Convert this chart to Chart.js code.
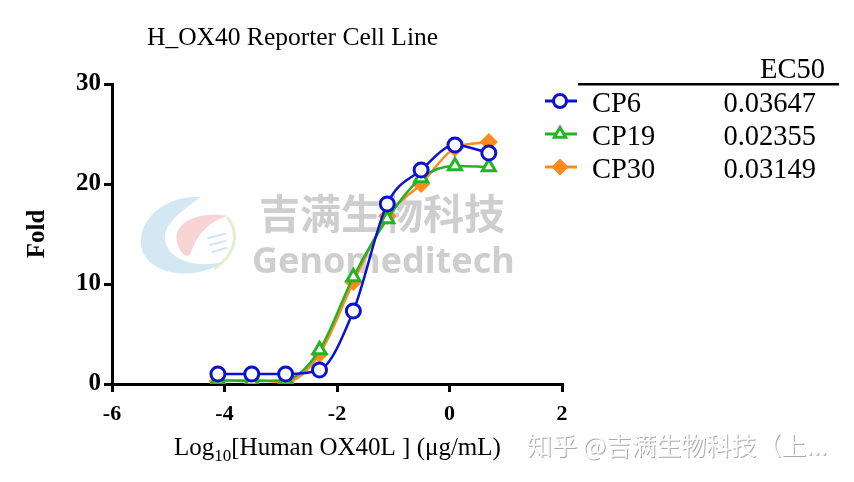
<!DOCTYPE html>
<html lang="en">
<head>
<meta charset="UTF-8">
<title>H_OX40 Reporter Cell Line</title>
<script src="https://cdn.jsdelivr.net/npm/chart.js@4.4.1/dist/chart.umd.min.js"></script>
<style>
    html, body { margin: 0; padding: 0; background: #fff; }
    #wrap { width: 854px; height: 482px; }
</style>
</head>
<body>
<div id="wrap"><canvas id="doseChart" width="854" height="482"></canvas></div>
<script>
    // log10 dose (ug/mL), 4-fold dilutions from 5 ug/mL
    const logDose = [-4.117, -3.515, -2.913, -2.311, -1.709, -1.107, -0.505, 0.097, 0.699];
    const names = ['CP6', 'CP19', 'CP30'];
    const ec50 = ['0.03647', '0.02355', '0.03149'];
    const cp6 = [1.0, 1.0, 1.0, 1.4, 7.3, 18.0, 21.4, 23.9, 23.1];
    const cp19 = [0.4, 0.3, 0.4, 3.4, 10.7, 16.5, 20.6, 21.8, 21.7];
    const cp30 = [0.3, 0.4, 0.2, 3.0, 10.2, 16.8, 20.0, 23.6, 24.2];
    const xTicks = [-6, -4, -2, 0, 2];
    const yTicks = [0, 10, 20, 30];

    const colors = ['#0a12d0', '#22b422', '#ff8a1e'];
    const serif = '"Liberation Serif", "Times New Roman", serif';

    function pts(vals) {
        return logDose.map((x, i) => ({x: x, y: vals[i]}));
    }

    // watermark behind the curves
    const watermark = {
        id: 'watermark',
        beforeDatasetsDraw(chart) {
            const ctx = chart.ctx;
            ctx.save();
            // logo swirl
            ctx.lineCap = 'round';
            ctx.fillStyle = 'rgba(160,205,228,0.45)';
            ctx.beginPath();
            ctx.moveTo(200, 197);
            ctx.bezierCurveTo(160, 195, 135, 225, 142, 250);
            ctx.bezierCurveTo(150, 275, 195, 282, 222, 262);
            ctx.bezierCurveTo(200, 268, 168, 262, 165, 240);
            ctx.bezierCurveTo(163, 222, 185, 210, 200, 197);
            ctx.fill();
            ctx.fillStyle = 'rgba(240,160,160,0.45)';
            ctx.beginPath();
            ctx.moveTo(178, 245);
            ctx.bezierCurveTo(170, 225, 195, 210, 228, 216);
            ctx.bezierCurveTo(205, 222, 195, 240, 190, 255);
            ctx.bezierCurveTo(185, 258, 180, 252, 178, 245);
            ctx.fill();
            ctx.strokeStyle = 'rgba(200,225,170,0.55)';
            ctx.lineWidth = 3;
            ctx.beginPath();
            ctx.moveTo(228, 218);
            ctx.bezierCurveTo(240, 235, 235, 255, 215, 268);
            ctx.stroke();
            ctx.strokeStyle = 'rgba(170,205,225,0.5)';
            ctx.lineWidth = 2;
            [0, 7, 14].forEach(d => {
                ctx.beginPath();
                ctx.moveTo(208 + d * 0.3, 238 + d);
                ctx.lineTo(225 + d * 0.1, 234 + d);
                ctx.stroke();
            });
            // company name
            ctx.fillStyle = 'rgba(190,190,190,0.75)';
            ctx.textBaseline = 'middle';
            ctx.font = 'bold 41px "Noto Sans CJK SC"';
            ctx.fillText('吉满生物科技', 259, 213);
            ctx.font = 'bold 36px "Noto Sans", "DejaVu Sans", sans-serif';
            ctx.fillText('Genomeditech', 252, 263);
            ctx.restore();
        }
    };

    // title, x title with subscript, EC50 table, bottom watermark
    const annotations = {
        id: 'annotations',
        afterDraw(chart) {
            const ctx = chart.ctx;
            ctx.save();
            ctx.fillStyle = '#000';
            ctx.textBaseline = 'alphabetic';
            ctx.textAlign = 'left';
            ctx.font = '25.5px ' + serif;
            ctx.fillText('H_OX40 Reporter Cell Line', 147, 45);

            // x axis title
            let x = 174, y = 455;
            ctx.font = '25px ' + serif;
            ctx.fillText('Log', x, y);
            x += ctx.measureText('Log').width;
            ctx.font = '17px ' + serif;
            ctx.fillText('10', x, y + 6);
            x += ctx.measureText('10').width;
            ctx.font = '25px ' + serif;
            ctx.fillText('[Human OX40L ] (\u03bcg/mL)', x, y);

            // EC50 table
            ctx.font = '28.5px ' + serif;
            ctx.textAlign = 'right';
            ctx.fillText('EC50', 825, 78);
            ctx.fillRect(578, 83, 261, 2.5);
            const rows = [112, 145, 178];
            const styles = ['circle', 'triangle', 'rectRot'];
            names.forEach((n, i) => {
                const ry = rows[i];
                ctx.strokeStyle = colors[i];
                ctx.lineWidth = 3;
                ctx.beginPath();
                ctx.moveTo(545, ry - 11);
                ctx.lineTo(577, ry - 11);
                ctx.stroke();
                ctx.fillStyle = i === 2 ? colors[i] : '#fff';
                Chart.helpers.drawPoint(ctx, {
                    pointStyle: styles[i], radius: 6.5, rotation: 0, borderWidth: 3
                }, 560, ry - 11);
                ctx.fillStyle = '#000';
                ctx.textAlign = 'left';
                ctx.fillText(n, 592, ry);
                ctx.textAlign = 'right';
                ctx.fillText(ec50[i], 816, ry);
            });

            // site watermark
            ctx.textAlign = 'left';
            ctx.font = '25px "Noto Sans CJK SC"';
            ctx.fillStyle = 'rgba(150,150,150,0.8)';
            ctx.fillText('知乎 @吉满生物科技（上...', 528, 456);
            ctx.fillStyle = 'rgba(255,255,255,0.95)';
            ctx.fillText('知乎 @吉满生物科技（上...', 527, 455);
            ctx.restore();
        }
    };

    const sets = [cp6, cp19, cp30];
    const pointStyles = ['circle', 'triangle', 'rectRot'];
    const datasets = sets.map((vals, i) => ({
        label: names[i],
        data: pts(vals),
        borderColor: colors[i],
        backgroundColor: i === 2 ? colors[i] : '#fff',
        borderWidth: 2.5,
        pointStyle: pointStyles[i],
        pointRadius: i === 1 ? 7.5 : 7,
        pointBorderWidth: 3,
        cubicInterpolationMode: 'monotone'
    }));

    new Chart(document.getElementById('doseChart'), {
        type: 'line',
        data: {datasets: datasets},
        plugins: [watermark, annotations],
        options: {
            responsive: false,
            animation: false,
            layout: {padding: {left: 0, top: 84, right: 292, bottom: 0}},
            plugins: {legend: {display: false}, tooltip: {enabled: false}},
            scales: {
                x: {
                    type: 'linear',
                    min: -6, max: 2,
                    afterFit: s => { s.height = 98; },
                    afterBuildTicks: s => { s.ticks = xTicks.map(v => ({value: v})); },
                    border: {color: '#000', width: 3},
                    grid: {display: true, drawOnChartArea: false, drawTicks: true, tickLength: 8, color: '#000', lineWidth: 3},
                    ticks: {color: '#000', padding: 9, font: {family: serif, size: 22, weight: 'bold'}}
                },
                y: {
                    min: 0, max: 30,
                    afterFit: s => { s.width = 112; },
                    afterBuildTicks: s => { s.ticks = yTicks.map(v => ({value: v})); },
                    border: {color: '#000', width: 3},
                    grid: {display: true, drawOnChartArea: false, drawTicks: true, tickLength: 8, color: '#000', lineWidth: 3},
                    ticks: {color: '#000', padding: 3, font: {family: serif, size: 25, weight: 'bold'}},
                    title: {display: true, text: 'Fold', color: '#000', padding: {top: 23, bottom: 0}, font: {family: serif, size: 25, weight: 'bold'}}
                }
            }
        }
    });
</script>
</body>
</html>
